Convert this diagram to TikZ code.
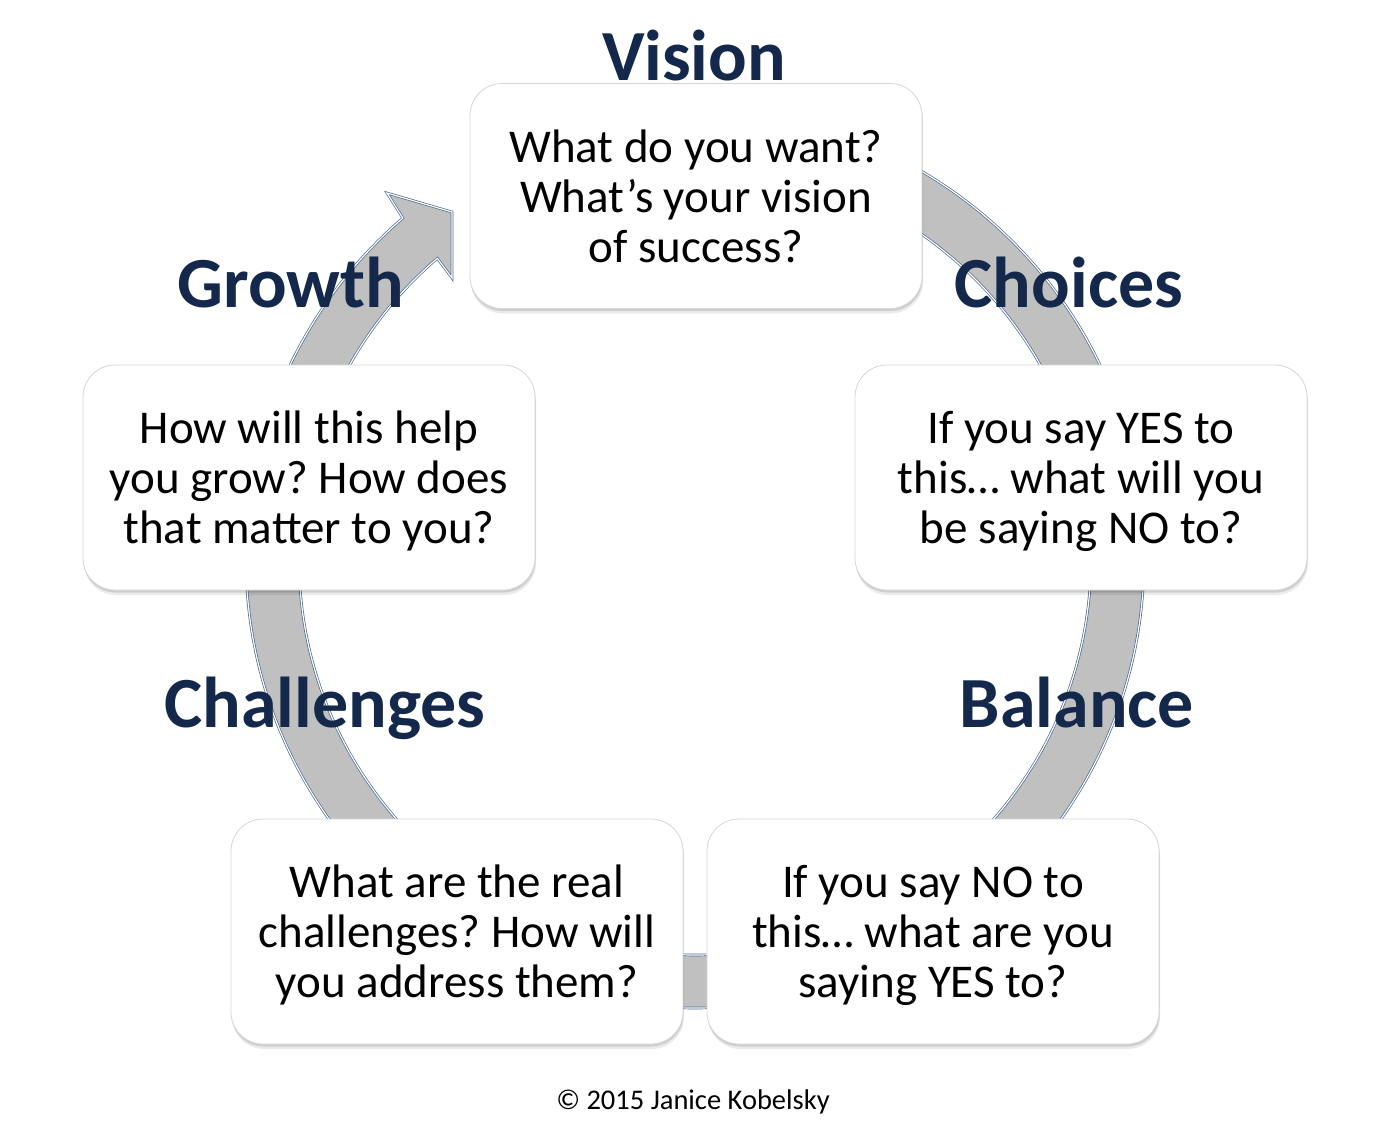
\documentclass[tikz,border=0pt]{standalone}
\usepackage{fontspec}
\setmainfont{Carlito}
\usetikzlibrary{calc,shadows}
\definecolor{navy}{HTML}{14284B}
\definecolor{ringgray}{HTML}{C0C0C0}
\definecolor{ringline}{HTML}{4A6A90}
\definecolor{boxline}{HTML}{D6D6D6}
\frenchspacing
\begin{document}
\begin{tikzpicture}[x=1pt,y=-1pt,
  box/.style={draw=boxline, line width=0.8pt, fill=white, rounded corners=32pt,
    minimum width=452pt, minimum height=225pt, align=center, inner sep=0pt,
    font=\fontsize{47}{50}\selectfont, text depth=0pt,
    general shadow={fill=black, opacity=0.08, shadow xshift=1pt, shadow yshift=-5pt},
    general shadow={fill=black, opacity=0.12, shadow xshift=0.5pt, shadow yshift=-2.5pt}},
  title/.style={text=navy, font=\bfseries\fontsize{72}{80}\selectfont, anchor=base, inner sep=0pt},
  ring/.style={fill=ringgray, draw=ringline, line width=0.7pt, double=white, double distance=1.2pt, line join=miter},
  footer/.style={font=\fontsize{28.5}{32}\selectfont, inner sep=0pt}
]
\useasboundingbox (0,0) rectangle (1391,1125);
\fill[white] (0,0) rectangle (1391,1125);

% ring centre
\coordinate (C) at (695,559);
\coordinate (barbout) at (387,193);
\coordinate (tipA) at (452,212);
\coordinate (tipB) at (452,278);

\path[ring] ($(C)+(-90:449)$) arc[start angle=-90, end angle=229.4, radius=449]
  -- (barbout) -- (tipA) -- (tipB) -- ($(C)+(229.4:396)$)
  arc[start angle=229.4, end angle=-90, radius=396] -- cycle;

% boxes
\node[box] (vision) at (696,196) {What do you want?\\What’s your vision\\of success?};
\node[box] (choices) at (1081,477.5) {If you say YES to\\this… what will you\\be saying NO to?};
\node[box] (growth) at (309,477.5) {How will this help\\you grow? How does\\that matter to you?};
\node[box] (challenges) at (457,931.5) {What are the real\\challenges? How will\\you address them?};
\node[box] (balance) at (933,931.5) {If you say NO to\\this… what are you\\saying YES to?};

% titles
\node[title] (tvision) at (694,80) {Vision};
\node[title] (tgrowth) at (291,307) {Growth};
\node[title] (tchoices) at (1069,307) {Choices};
\node[title] (tchallenges) at (325,727) {Challenges};
\node[title] (tbalance) at (1077,727) {Balance};

\node[footer] (copy) at (693,1102) {© 2015 Janice Kobelsky};
\end{tikzpicture}
\end{document}
